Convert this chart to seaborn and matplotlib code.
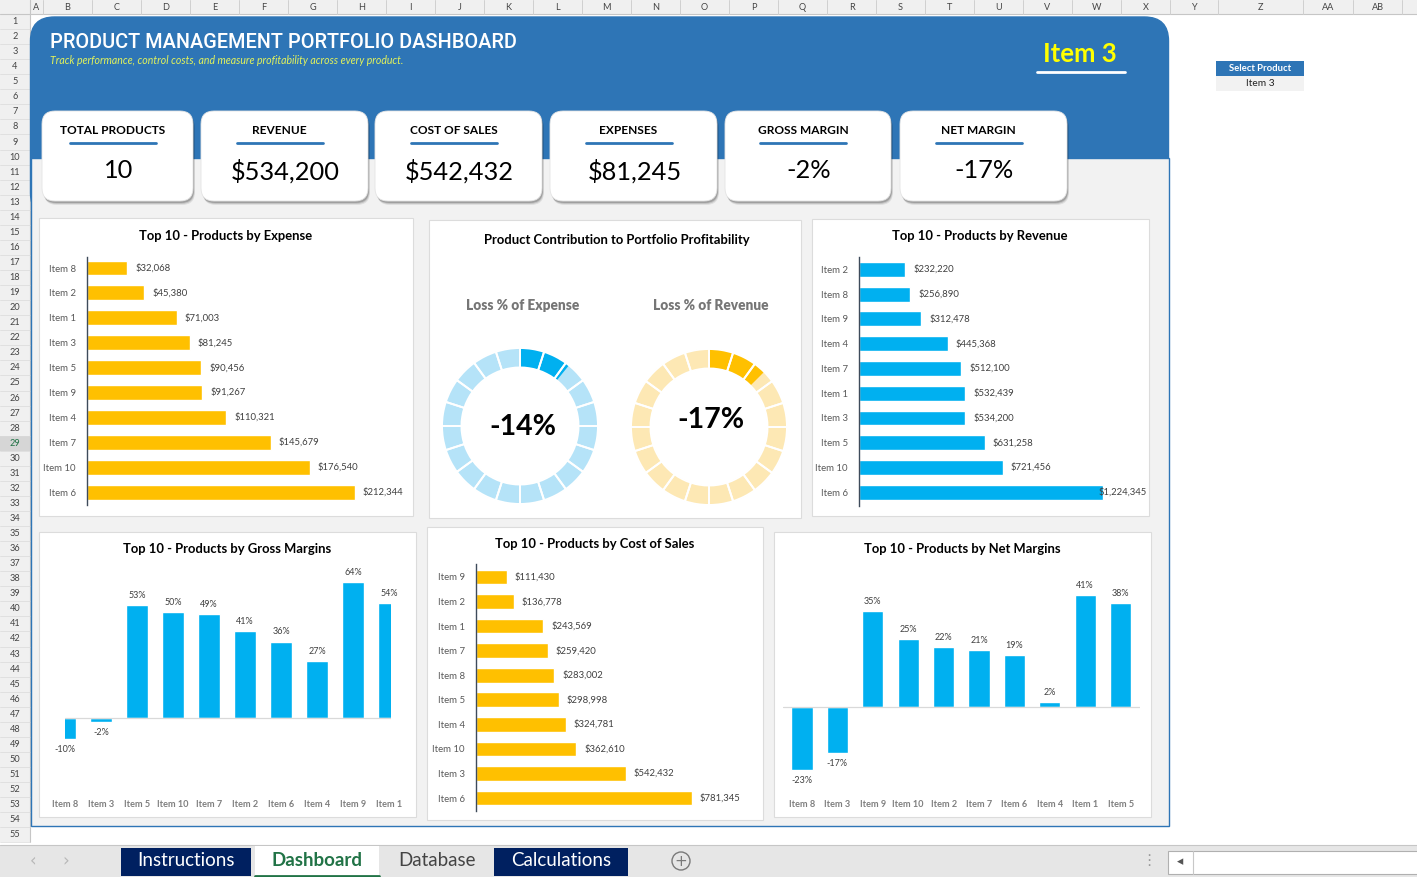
import matplotlib
matplotlib.use("Agg")
import matplotlib.pyplot as plt
from matplotlib.patches import FancyBboxPatch, Rectangle, Circle
import numpy as np
import pandas as pd
import seaborn as sns

# ---------------- data ----------------
kpi_labels = ["TOTAL PRODUCTS", "REVENUE", "COST OF SALES", "EXPENSES", "GROSS MARGIN", "NET MARGIN"]
kpi_values = ["10", "$534,200", "$542,432", "$81,245", "-2%", "-17%"]

expense_items = ["Item 8", "Item 2", "Item 1", "Item 3", "Item 5", "Item 9", "Item 4", "Item 7", "Item 10", "Item 6"]
expense_values = [32068, 45380, 71003, 81245, 90456, 91267, 110321, 145679, 176540, 212344]

revenue_items = ["Item 2", "Item 8", "Item 9", "Item 4", "Item 7", "Item 1", "Item 3", "Item 5", "Item 10", "Item 6"]
revenue_values = [232220, 256890, 312478, 445368, 512100, 532439, 534200, 631258, 721456, 1224345]

cos_items = ["Item 9", "Item 2", "Item 1", "Item 7", "Item 8", "Item 5", "Item 4", "Item 10", "Item 3", "Item 6"]
cos_values = [111430, 136778, 243569, 259420, 283002, 298998, 324781, 362610, 542432, 781345]

gm_items = ["Item 8", "Item 3", "Item 5", "Item 10", "Item 7", "Item 2", "Item 6", "Item 4", "Item 9", "Item 1"]
gm_values = [-10, -2, 53, 50, 49, 41, 36, 27, 64, 54]

nm_items = ["Item 8", "Item 3", "Item 9", "Item 10", "Item 2", "Item 7", "Item 6", "Item 4", "Item 1", "Item 5"]
nm_values = [-23, -17, 35, 25, 22, 21, 19, 2, 41, 38]

donut_titles = ["Loss % of Expense", "Loss % of Revenue"]
donut_labels = ["-14%", "-17%"]
donut_fill = [0.108, 0.125]   # dark arc shown in each ring
ring_segments = 20

selected_product = "Item 3"
col_letters = ["A", "B", "C", "D", "E", "F", "G", "H", "I", "J", "K", "L", "M", "N", "O",
               "P", "Q", "R", "S", "T", "U", "V", "W", "X", "Y", "Z", "AA", "AB"]
sheet_tabs = ["Instructions", "Dashboard", "Database", "Calculations"]

# ---------------- style ----------------
sns.set_theme(style="white")
FONT = ["Lato", "DejaVu Sans"]
plt.rcParams["font.family"] = FONT

BLUE = "#2e75b6"
CYAN = "#00b0f0"
GOLD = "#ffc000"
LIGHT_CYAN = "#b5e3f8"
LIGHT_GOLD = "#fde8b4"
NAVY = "#002060"

W, H = 1417, 877
fig = plt.figure(figsize=(W / 100, H / 100), dpi=100)
fig.patch.set_facecolor("white")
bg = fig.add_axes([0, 0, 1, 1])
bg.set_xlim(0, W)
bg.set_ylim(H, 0)
bg.axis("off")


def pax(x0, y0, x1, y1):
    ax = fig.add_axes([x0 / W, 1 - y1 / H, (x1 - x0) / W, (y1 - y0) / H])
    ax.patch.set_alpha(0)
    return ax


def T(x, y, s, size, color="black", weight="normal", ha="center", va="center", style="normal", family=None, **kw):
    return bg.text(x, y, s, fontsize=size, color=color, fontweight=weight, ha=ha, va=va,
                   fontstyle=style, family=family or FONT, **kw)


def R(x0, y0, x1, y1, fc, ec="none", lw=0.8, z=1):
    bg.add_patch(Rectangle((x0, y0), x1 - x0, y1 - y0, facecolor=fc, edgecolor=ec, linewidth=lw, zorder=z))


# ---------------- Excel chrome ----------------
R(0, 0, W, 14, "#f0f0f0", z=1)
bg.plot([0, W], [14, 14], color="#c6c6c6", lw=0.8, zorder=2)
col_edges = [30, 43] + [43 + 49 * k for k in range(1, 24)] + [1218, 1303, 1353, 1402]
for e in col_edges:
    bg.plot([e, e], [0, 14], color="#d0d0d0", lw=0.7, zorder=2)
for i, letter in enumerate(col_letters):
    T((col_edges[i] + col_edges[i + 1]) / 2, 7.5, letter, 6.6, color="#444444")

R(0, 14, 30, 842, "#f0f0f0", z=1)
bg.plot([30, 30], [0, 842], color="#c6c6c6", lw=0.8, zorder=2)
row_h = 15.06
for k in range(1, 56):
    yc = 14 + (k - 0.5) * row_h
    if k == 29:
        R(0, 14 + (k - 1) * row_h, 30, 14 + k * row_h, "#d6d6d6", z=1.5)
        T(15, yc, str(k), 6.6, color="#217346")
    else:
        T(15, yc, str(k), 6.6, color="#444444")
    bg.plot([0, 30], [14 + k * row_h, 14 + k * row_h], color="#dadada", lw=0.5, zorder=2)

# sheet tab bar
R(0, 845, W, H, "#e6e6e6", z=1)
bg.plot([0, W], [845, 845], color="#c6c6c6", lw=0.8, zorder=2)
T(33, 861, "‹", 12, color="#b8b8b8", family=["DejaVu Sans"])
T(66, 861, "›", 12, color="#b8b8b8", family=["DejaVu Sans"])
tab_boxes = [(121, 251), (255, 379), (384, 489), (494, 628)]
for (a, b), name in zip(tab_boxes, sheet_tabs):
    if name in ("Instructions", "Calculations"):
        R(a, 848, b, 876, NAVY, z=2)
        T((a + b) / 2, 861, name, 13.5, color="white")
    elif name == "Dashboard":
        R(a, 846, b, 877, "white", z=2)
        bg.plot([a, b], [875.5, 875.5], color="#217346", lw=2, zorder=3)
        T((a + b) / 2, 860, name, 13.5, color="#217346", weight="bold")
    else:
        T((a + b) / 2, 861, name, 13.5, color="#444444")
bg.add_patch(Circle((681, 861), 9, facecolor="none", edgecolor="#7a7a7a", lw=1, zorder=3))
T(681, 861, "+", 11, color="#7a7a7a", family=["DejaVu Sans"])
T(1149, 861, "⋮", 11, color="#9a9a9a", family=["DejaVu Sans"])
R(1168, 851, 1419, 874, "white", ec="#b0b0b0", lw=0.8, z=2)
bg.plot([1193, 1193], [851, 874], color="#c8c8c8", lw=0.8, zorder=3)
T(1180, 862, "◂", 9, color="#555555", family=["DejaVu Sans"])

# selector
R(1216, 61, 1304, 75.5, BLUE, z=2)
T(1260, 68.5, "Select Product", 6.8, color="white", weight="bold")
R(1216, 76, 1304, 91, "#f2f2f2", z=2)
T(1260, 84, selected_product, 7.3, color="#222222")

# ---------------- dashboard frame ----------------
bg.add_patch(FancyBboxPatch((30.5, 17), 1138, 200, boxstyle="round,pad=0,rounding_size=24",
                            facecolor=BLUE, edgecolor=BLUE, lw=1, zorder=3))
R(30.5, 158, 1168.5, 826, "#f2f2f2", ec=BLUE, lw=1, z=3)
bg.add_patch(Rectangle((31, 150), 1137, 8, facecolor=BLUE, edgecolor="none", zorder=3.1))

T(50, 42, "PRODUCT MANAGEMENT PORTFOLIO DASHBOARD", 14.3, color="white", weight="medium",
  ha="left", family=["Roboto", "DejaVu Sans"], zorder=4)
T(50, 60, "Track performance, control costs, and measure profitability across every product.",
  7.6, color="#e3f25a", style="italic", ha="left", zorder=4)
T(1080, 54, selected_product, 18.5, color="#ffff00", weight="bold", zorder=4)
bg.plot([1037, 1125], [72, 72], color="white", lw=2, zorder=4)

# KPI cards
cards = [(42, 193), (201, 368), (375, 542), (550, 717), (725, 891), (900, 1067)]
for (a, b), lab, val in zip(cards, kpi_labels, kpi_values):
    for off, al in [(4, 0.08), (3, 0.12), (2, 0.18)]:
        bg.add_patch(FancyBboxPatch((a + off * 0.5, 111 + off), b - a, 90, boxstyle="round,pad=0,rounding_size=13",
                                    facecolor="black", edgecolor="none", alpha=al, zorder=4))
    bg.add_patch(FancyBboxPatch((a, 111), b - a, 90, boxstyle="round,pad=0,rounding_size=13",
                                facecolor="white", edgecolor="#e4e4e4", lw=0.6, zorder=5))
    cx = (a + b) / 2 - 5
    T(cx, 131, lab, 8.6, color="black", weight="bold", zorder=6)
    bg.plot([cx - 43, cx + 43], [143, 143], color=BLUE, lw=2, zorder=6)
    T((a + b) / 2 + 1, 171, val, 18.3, color="black", zorder=6)

# chart panels
panels = [(39, 218, 413, 516), (429, 220, 801, 518), (812, 219, 1149, 516),
          (39, 532, 416, 817), (427, 527, 763, 820), (774, 532, 1151, 817)]
for (a, b, c, d) in panels:
    R(a, b, c, d, "white", ec="#dcdcdc", lw=0.8, z=4)

TS = 9.4
T(226, 236, "Top 10 - Products by Expense", TS, weight="bold", zorder=6)
T(617, 240, "Product Contribution to Portfolio Profitability", TS, weight="bold", zorder=6)
T(980, 236, "Top 10 - Products by Revenue", TS, weight="bold", zorder=6)
T(227, 549, "Top 10 - Products by Gross Margins", TS, weight="bold", zorder=6)
T(595, 544, "Top 10 - Products by Cost of Sales", TS, weight="bold", zorder=6)
T(962, 549, "Top 10 - Products by Net Margins", TS, weight="bold", zorder=6)

clamp = []


def hbar(items, values, color, box, first_y, step, end_px, ticks=False, limit_px=None):
    x0, y0, x1, y1 = box
    ax = pax(x0, y0, x1, y1)
    df = pd.DataFrame({"item": items, "value": values})
    sns.barplot(data=df, x="value", y="item", order=items, color=color, saturation=1,
                width=0.6, errorbar=None, orient="h", ax=ax)
    xmax = max(values) * (x1 - x0) / (end_px - x0)
    ax.set_xlim(0, xmax)
    ax.set_ylim((y1 - first_y) / step, (y0 - first_y) / step)
    for s in ["top", "right", "bottom"]:
        ax.spines[s].set_visible(False)
    ax.spines["left"].set_color("#3e4b5b")
    ax.spines["left"].set_linewidth(1)
    ax.set_xticks([])
    ax.set_xlabel("")
    ax.set_ylabel("")
    ax.tick_params(axis="y", length=0, pad=8, labelsize=6.9, labelcolor="#595959")
    if ticks:
        ax.set_yticks(np.arange(-0.5, len(items), 1), minor=True)
        ax.tick_params(axis="y", which="minor", length=4, width=0.8, color="#3e4b5b", direction="out")
    off = 8 * xmax / (x1 - x0)
    for i, v in enumerate(values):
        t = ax.text(v + off, i, f"${v:,.0f}", fontsize=6.8, color="#404040", va="center", ha="left")
        if limit_px is not None:
            clamp.append((ax, t, limit_px, xmax / (x1 - x0)))
    return ax


hbar(expense_items, expense_values, GOLD, (87, 257, 405, 505), 268, 24.9, 355)
hbar(revenue_items, revenue_values, CYAN, (859, 257, 1140, 506), 269, 24.8, 1103, ticks=True, limit_px=1147)
hbar(cos_items, cos_values, GOLD, (476, 564, 755, 811), 577, 24.56, 692)


def vbar(items, values, box, first_x, step, zero_y, ppu):
    x0, y0, x1, y1 = box
    ax = pax(x0, y0, x1, y1)
    df = pd.DataFrame({"item": items, "value": values})
    sns.barplot(data=df, x="item", y="value", order=items, color=CYAN, saturation=1,
                width=0.6, errorbar=None, ax=ax)
    ax.set_xlim((x0 - first_x) / step, (x1 - first_x) / step)
    ax.set_ylim(-(y1 - zero_y) / ppu, (zero_y - y0) / ppu)
    ax.axhline(0, color="#d9d9d9", lw=0.9)
    for s in ax.spines.values():
        s.set_visible(False)
    ax.set_yticks([])
    ax.set_xlabel("")
    ax.set_ylabel("")
    ax.set_xticks(range(len(items)))
    ax.set_xticklabels(items, fontweight="bold", fontsize=6.6, color="#7f7f7f")
    ax.tick_params(axis="x", length=0, pad=5.5)
    for i, v in enumerate(values):
        if v >= 0:
            ax.text(i, v + 5 / ppu, f"{v}%", fontsize=6.5, color="#404040", ha="center", va="bottom")
        else:
            ax.text(i, v - 6 / ppu, f"{v}%", fontsize=6.5, color="#404040", ha="center", va="top", clip_on=False)
    return ax


vbar(gm_items, gm_values, (64.5, 560, 390.5, 792), 65, 36.0, 718, 2.125)
vbar(nm_items, nm_values, (783, 560, 1140, 792), 802, 35.4, 707, 2.73)

# donuts
donut_specs = [((520, 426), LIGHT_CYAN, CYAN, 427), ((709, 427), LIGHT_GOLD, GOLD, 420)]
for (center, light, dark, ty), title, lab, fill, tx in zip(donut_specs, donut_titles, donut_labels, donut_fill,
                                                            [523, 711]):
    cx, cy = center
    r = 78
    ax = pax(cx - r - 2, cy - r - 2, cx + r + 2, cy + r + 2)
    rr = r / (r + 2)
    wd = 0.25 * rr
    ax.pie([1] * ring_segments, radius=rr, colors=[light] * ring_segments, startangle=90, counterclock=False,
           wedgeprops=dict(width=wd, edgecolor="none"))
    ax.pie([fill, 1 - fill], radius=rr, colors=[dark, (0, 0, 0, 0)], startangle=90, counterclock=False,
           wedgeprops=dict(width=wd, edgecolor="none"))
    ax.pie([1] * ring_segments, radius=rr, colors=[(0, 0, 0, 0)] * ring_segments, startangle=90,
           counterclock=False, wedgeprops=dict(width=wd, edgecolor="white", linewidth=1.4))
    ax.set_xlim(-1, 1)
    ax.set_ylim(-1, 1)
    ax.set_aspect("equal")
    T(tx, 306, title, 9.8, color="#767676", weight="heavy", zorder=6)
    T(tx, ty, lab, 20.5, color="black", weight="bold", zorder=6)

# clamp overflowing labels (Excel keeps them inside plot area)
fig.canvas.draw()
rend = fig.canvas.get_renderer()
for ax, t, limit, per_px in clamp:
    bb = t.get_window_extent(rend)
    if bb.x1 > limit:
        x, y = t.get_position()
        t.set_position((x - (bb.x1 - limit) * per_px, y))

fig.savefig("out.png", dpi=100)
